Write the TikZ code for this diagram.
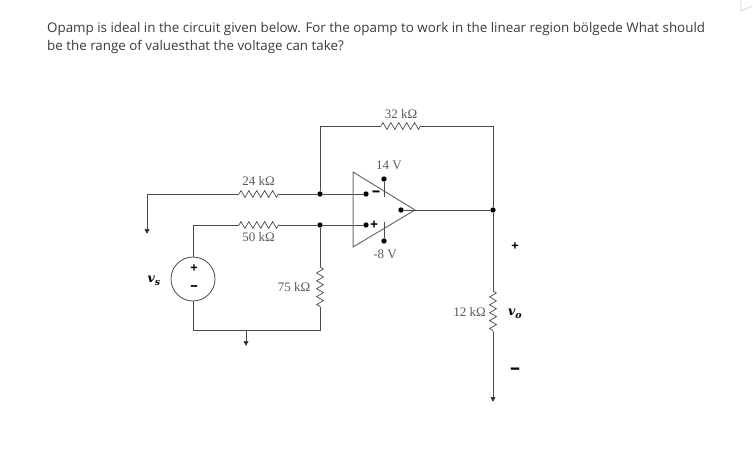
\documentclass[tikz,border=0pt]{standalone}
\usepackage{fontspec}
\setmainfont{Open Sans}
\newfontfamily\serifl{Liberation Serif}
\newfontfamily\voltf{DejaVu Serif}
\usetikzlibrary{arrows.meta,decorations.pathmorphing}
\definecolor{wirec}{HTML}{4A4A4A}
\definecolor{labelc}{HTML}{5A5A5A}
\definecolor{textc}{HTML}{3C3C3C}
\newcommand{\subv}[1]{\raisebox{-2.5pt}{\fontsize{9.5}{10}\selectfont #1}}
\tikzset{
  wire/.style={draw=wirec,line width=0.9pt},
  arrowwire/.style={wire,-{Triangle[length=5pt,width=5pt,fill=black]}},
  resistor/.style={wire,line width=0.7pt,decoration={zigzag,segment length=7.9pt,amplitude=3.4pt},decorate},
  dotn/.style={circle,fill=black,inner sep=0pt,minimum size=5.4pt},
  value/.style={font=\serifl\fontsize{13}{13}\selectfont,text=labelc,inner sep=0pt},
  sym/.style={font=\bfseries\fontsize{13}{13}\selectfont,text=black,inner sep=0pt},
  volt/.style={font=\voltf\bfseries\itshape\fontsize{12.5}{13}\selectfont,text=black,inner sep=0pt},
  question/.style={font=\fontsize{13.37}{18.5}\selectfont,text=textc,inner sep=0pt,anchor=north west,align=left},
  opampshape/.style={draw=wirec!80,line width=1pt,line join=miter},
  source/.style={circle,draw=wirec,line width=0.8pt,minimum size=44pt,inner sep=0pt}
}
\begin{document}
\begin{tikzpicture}[x=1pt,y=-1pt]
\useasboundingbox (0,0) rectangle (753,468);
\fill[white] (0,0) rectangle (753,468);

\node[question] (q) at (47,22) {Opamp is ideal in the circuit given below. For the opamp to work in the linear region bölgede What should\\be the range of valuesthat the voltage can take?};

% corner mark
\coordinate (c1) at (741,0);
\coordinate (c2) at (741,11);
\coordinate (c3) at (752,6);
\draw[gray!35,line width=0.7pt] (c1) -- (c2) -- (c3);

% nodes
\node[dotn] (ninv) at (320,194) {};
\node[dotn] (nnon) at (320,225) {};
\node[dotn] (nout) at (493,210) {};
\node[dotn] (dinv) at (366,194) {};
\node[dotn] (dnon) at (366,225) {};
\node[dotn] (dout) at (401,210) {};
\node[dotn] (dtop) at (384,179) {};
\node[dotn] (dbot) at (384,241) {};
\node[source] (vs) at (193,279) {};

\coordinate (fbl) at (320,126);
\coordinate (fbr) at (493,126);
\coordinate (r32a) at (381,126);
\coordinate (r32b) at (421,126);
\coordinate (r24a) at (239,194);
\coordinate (r24b) at (279,194);
\coordinate (r50a) at (239,225);
\coordinate (r50b) at (279,225);
\coordinate (r75a) at (320,267);
\coordinate (r75b) at (320,307);
\coordinate (r12a) at (493,291);
\coordinate (r12b) at (493,332);
\coordinate (lcorn) at (147,194);
\coordinate (lend) at (147,234);
\coordinate (scorn) at (193,225);
\coordinate (bl) at (193,330);
\coordinate (br) at (320,330);
\coordinate (gnd) at (246,330);
\coordinate (gndend) at (246,346);
\coordinate (oend) at (493,402);
\coordinate (tip) at (415,210);
\coordinate (ta) at (353,172);
\coordinate (tb) at (353,247);
\coordinate (tmid) at (384,197);
\coordinate (bmid) at (384,222);

% feedback
\draw[wire] (ninv) -- (fbl) -- (r32a);
\draw[resistor] (r32a) -- (r32b);
\draw[wire] (r32b) -- (fbr) -- (nout);

% inverting input
\draw[arrowwire] (r24a) -- (lcorn) -- (lend);
\draw[resistor] (r24a) -- (r24b);
\draw[wire] (r24b) -- (ninv) -- (dinv);

% non-inverting input
\draw[wire] (vs.north) -- (scorn) -- (r50a);
\draw[resistor] (r50a) -- (r50b);
\draw[wire] (r50b) -- (nnon) -- (dnon);

% 75k
\draw[wire] (nnon) -- (r75a);
\draw[resistor] (r75a) -- (r75b);
\draw[wire] (r75b) -- (br) -- (bl) -- (vs.south);
\draw[arrowwire] (gnd) -- (gndend);

% op-amp
\draw[opampshape] (ta) -- (tb) -- (tip) -- cycle;
\draw[wire] (dout) -- (nout);
\draw[wire,line width=0.7pt] (dtop) -- (tmid);
\draw[wire,line width=0.7pt] (dbot) -- (bmid);

% output
\draw[wire] (nout) -- (r12a);
\draw[resistor] (r12a) -- (r12b);
\draw[arrowwire] (r12b) -- (oend);

% labels
\node[value] (l32) at (401,114) {32 kΩ};
\node[value] (l24) at (258.5,181) {24 kΩ};
\node[value] (l50) at (258.5,237) {50 kΩ};
\node[value] (l75) at (294,287) {75 kΩ};
\node[value] (l12) at (469.5,312) {12 kΩ};
\node[value] (l14) at (389,165.5) {14 V};
\node[value] (l8) at (385,254.5) {-8 V};

\node[sym] (pinv) at (376,194) {\fontsize{17}{17}\selectfont –};
\node[sym] (pnon) at (374,225) {\fontsize{14}{14}\selectfont +};
\node[sym] (sp) at (194,269) {+};
\node[sym] (sm) at (194,288) {\fontsize{15}{15}\selectfont –};
\node[sym] (op) at (515,247) {+};
\node[sym] (om) at (515,371) {\fontsize{20}{20}\selectfont –};

\node[volt] (lvs) at (154,281) {v\subv{s}};
\node[volt] (lvo) at (515,314) {v\subv{o}};
\end{tikzpicture}
\end{document}
